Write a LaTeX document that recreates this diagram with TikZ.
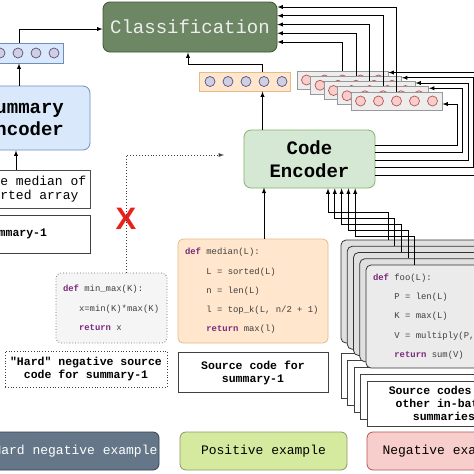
\documentclass[tikz,border=0pt]{standalone}
\usepackage{fontspec}
\setmonofont{Liberation Mono}
\setsansfont{Liberation Sans}
\usetikzlibrary{positioning}
\definecolor{clsf}{HTML}{6D8764}
\definecolor{clsd}{HTML}{3A5431}
\definecolor{bluef}{HTML}{DAE8FC}
\definecolor{blued}{HTML}{6C8EBF}
\definecolor{lavf}{HTML}{D0CEE2}
\definecolor{lavd}{HTML}{56517E}
\definecolor{greenf}{HTML}{D5E8D4}
\definecolor{greend}{HTML}{82B366}
\definecolor{orf}{HTML}{FFE6CC}
\definecolor{ord}{HTML}{E3BC86}
\definecolor{pinkf}{HTML}{F8CECC}
\definecolor{pinkd}{HTML}{B85450}
\definecolor{slatef}{HTML}{647687}
\definecolor{slated}{HTML}{314354}
\definecolor{limef}{HTML}{D5EA9E}
\definecolor{limed}{HTML}{8A9868}
\definecolor{kwc}{HTML}{7B2A7D}
\definecolor{xred}{HTML}{E8211B}
\newcommand{\kw}[1]{\textcolor{kwc}{\textbf{#1}}}
\newcommand{\ind}{\hspace*{21.4pt}}
\newcommand{\mfont}[2]{\fontsize{#1}{#2}\ttfamily\selectfont\spaceskip=0.6em\relax}

\begin{document}
\begin{tikzpicture}[x=1pt, y=-1pt, font=\ttfamily]
\tikzstyle{box}=[rectangle, draw, line width=0.8pt, inner sep=0pt]
\tikzstyle{enc}=[box, rounded corners=7pt, font=\bfseries\mfont{19}{22.5}, align=center]
\tikzstyle{capbox}=[box, draw=black!75, fill=white, font=\bfseries\mfont{11.5}{13}, align=center]
\tikzstyle{codebox}=[box, rounded corners=5pt, align=left, inner xsep=7pt, font=\mfont{8.9}{19.3}, text=black!75, execute at begin node={\spaceskip=0.6em\relax}]
\tikzstyle{vec}=[box, draw=black!40, fill=black!7, minimum width=91pt, minimum height=18pt]
\tikzstyle{vdot}=[circle, draw, inner sep=0pt, minimum size=10pt, line width=0.7pt]
\tikzstyle{legend}=[box, rounded corners=6pt, minimum height=38pt, font=\mfont{13}{15}]
\tikzstyle{connect}=[draw, -latex, line width=0.9pt]

\useasboundingbox (0,0) rectangle (474,474);
\clip (0,0) rectangle (474,474);

% classifier and summary side
\node[box, rounded corners=7pt, fill=clsf, draw=clsd, text=white!93!black, minimum width=174pt, minimum height=50pt, font=\mfont{19}{22}] (clas) at (190,27) {Classification};
\node[vec, fill=bluef, draw=blued, minimum height=20pt] (svec) at (17.5,53) {};
\foreach \k in {0,...,4}
  \node[vdot, fill=lavf, draw=lavd] (sv\k) at (-18+18*\k,53) {};
\node[enc, fill=bluef, draw=blued, minimum width=132pt, minimum height=64pt] (senc) at (24,118) {Summary\\Encoder};
\node[capbox, draw=black!70, minimum width=148pt, minimum height=38pt, font=\mfont{13}{14}] (stxt) at (16,189) {Find the median of\\the sorted array};
\node[capbox, minimum width=148pt, minimum height=38pt] (sid) at (16,234) {Summary-1};

% code side
\node[enc, fill=greenf, draw=greend, minimum width=131pt, minimum height=58pt] (cenc) at (309.5,159) {Code\\Encoder};
\node[vec, fill=orf, draw=ord, minimum height=19pt] (cvec) at (244.5,81.5) {};
\foreach \k in {0,...,4}
  \node[vdot, fill=lavf, draw=lavd] (cv\k) at (210+18*\k,81.5) {};
\foreach \i in {0,...,4} {
  \node[vec] (pv\i) at (342.5+13.5*\i,80+5.25*\i) {};
  \foreach \k in {0,...,4}
    \node[vdot, fill=pinkf, draw=pinkd] (pv\i-\k) at (306.5+13.5*\i+18*\k,80+5.25*\i) {};
}

\node[codebox, fill=orf, draw=ord, text width=136pt, minimum height=104pt] (code) at (253,291) {\kw{def} median(L):\\
\ind L = sorted(L)\\
\ind n = len(L)\\
\ind l = top\_k(L, n/2 + 1)\\
\ind \kw{return} max(l)};
\node[capbox, minimum width=150pt, minimum height=40pt] (ccap) [below=9pt of code] {Source code for\\summary-1};

\node[codebox, fill=black!4, draw=black!60, dotted, text width=97pt, minimum height=70pt] (hcode) at (111.5,308) {\kw{def} min\_max(K):\\
\hspace*{16pt}x=min(K)*max(K)\\
\hspace*{16pt}\kw{return} x};
\node[capbox, dotted, minimum width=162pt, minimum height=36pt] (hcap) at (86,369) {"Hard" negative source\\code for summary-1};
\node[text=xred, font=\sffamily\bfseries\fontsize{31}{31}\selectfont] (cross) at (126,219) {X};
\coordinate (hend) at (224,155);

\foreach \i in {0,...,3} {
  \node[box, rounded corners=5pt, fill=black!12, draw=black!80, minimum width=150pt, minimum height=103pt] (cs\i) at (416+6.25*\i,291.5+6.25*\i) {};
  \node[capbox, minimum width=154pt, minimum height=45pt] (cc\i) at (418+6.5*\i,375.5+7*\i) {};
}
\node[codebox, fill=black!8, draw=black!80, text width=136pt, minimum height=103pt] (cs4) at (441,316.5) {\kw{def} foo(L):\\
\ind P = len(L)\\
\ind K = max(L)\\
\ind V = multiply(P, K)\\
\ind \kw{return} sum(V)};
\node[capbox, minimum width=154pt, minimum height=45pt] (cc4) at (444,403.5) {Source codes for\\other in-batch\\summaries};

% legend
\node[legend, fill=slatef, draw=slated, text=white, minimum width=167pt] (legh) at (75.5,451) {Hard negative example};
\node[legend, fill=limef, draw=limed, minimum width=167pt] (legp) at (263.5,451) {Positive example};
\node[legend, fill=pinkf, draw=pinkd, minimum width=156pt] (legn) at (445,451) {Negative example};

% connectors
\draw[connect] (stxt.north) -- (stxt.north |- senc.south);
\draw[connect] ([xshift=-5pt]senc.north) -- ([xshift=1.5pt]svec.south);
\draw[connect] ([xshift=1.5pt]svec.north) |- ([yshift=-2pt]clas.west);
\draw[connect] ([xshift=-47pt]cenc.north) -- ([xshift=18pt]cvec.south);
\draw[connect] ([xshift=18pt]cvec.north) -- ++(0,-7) -| ([xshift=-2pt]clas.south);
\draw[connect] ([xshift=11pt]code.north) -- ++(0,-51);
\draw[connect, dotted, black!75] ([xshift=14.5pt]hcode.north) |- (hend);
\foreach \i in {0,...,4} {
  \draw[connect] (pv\i.north) |- ([yshift={(8.75*\i-15)*1pt}]clas.east);
  \draw[connect] ([xshift={(0.45*\i-28)*1pt}]cs\i.north) -- ++(0,{-27-0.25*\i}) -| ([xshift={(18.5+6.8*\i)*1pt}]cenc.south);
}
\draw[connect] ([yshift=14pt]cenc.east) -- ++(82,0) |- ([yshift=-3pt]pv4.east);
\foreach \i/\j in {1/3,2/2,3/1,4/0}
  \draw[connect] ([yshift={(14-7.5*\i)*1pt}]cenc.east) -- ++({82+5.5*\i},0) |- ([yshift=7.5pt]pv\j.east);
\end{tikzpicture}
\end{document}
